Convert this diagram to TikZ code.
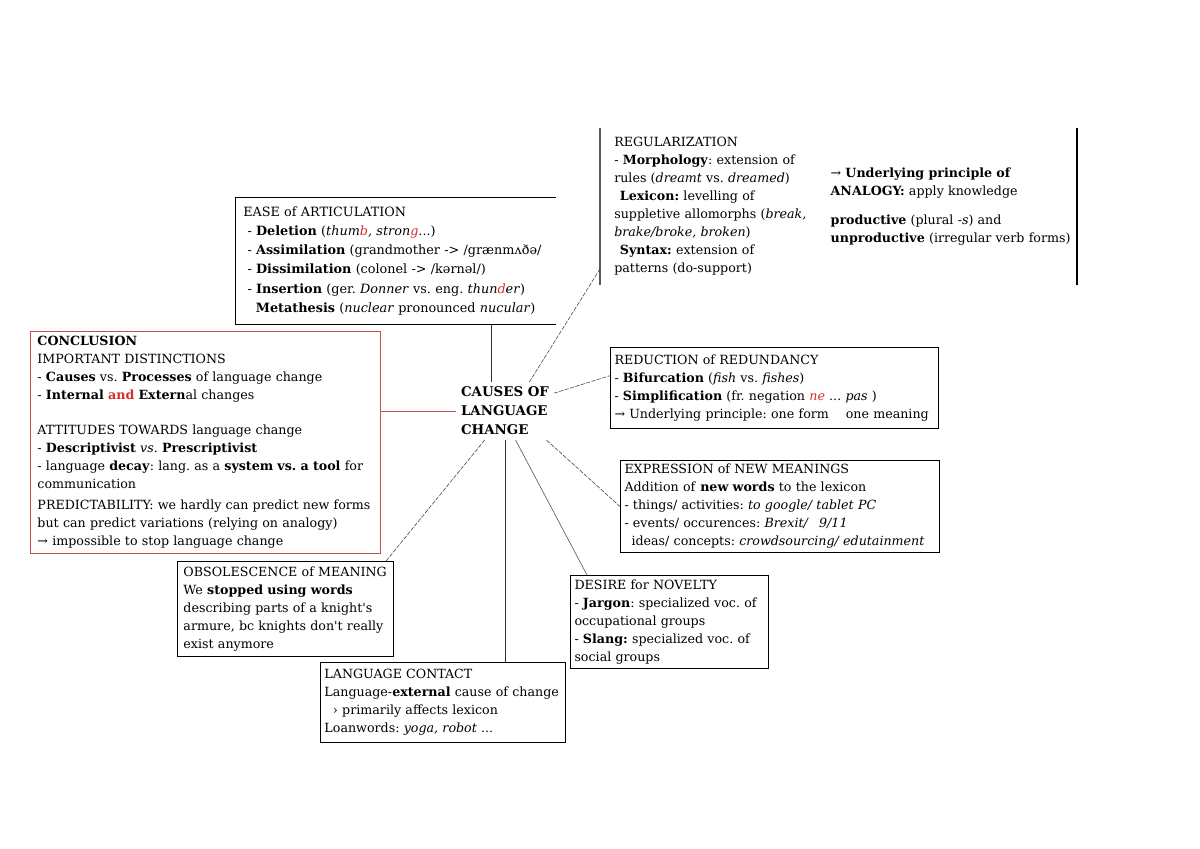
\documentclass[tikz,border=0pt]{standalone}
\usepackage{fontspec}
\setmainfont{DejaVu Serif}
\usetikzlibrary{calc}
\frenchspacing
\hyphenpenalty=10000
\definecolor{hl}{RGB}{215,45,45}
\definecolor{redframe}{RGB}{190,80,80}
\tikzset{
  box/.style={draw, line width=0.7pt, anchor=north west, align=left, inner xsep=0.15cm, inner ysep=2pt},
  plain/.style={anchor=north west, align=left, inner xsep=0.15cm, inner ysep=2pt},
  dashlink/.style={black!75, line width=0.4pt, dash pattern=on 3pt off 1pt},
  link/.style={black!80, line width=0.5pt},
  edge/.style={black!65, line width=1.1pt},
}
\begin{document}
\begin{tikzpicture}[x=0.025cm, y=-0.025cm, font=\fontsize{9}{12.8}\selectfont]
\useasboundingbox (0,0) rectangle (1200,848);
\fill[white] (0,0) rectangle (1200,848);
\node[font=\fontsize{9.5}{13.5}\selectfont\bfseries, align=left] (causes) at (505,411) {CAUSES OF\\LANGUAGE\\CHANGE};
\node[plain, font=\fontsize{9.1}{13.6}\selectfont, inner xsep=0.2cm, text width=7.6cm, minimum height=3.175cm] (ease) at (235,197) {EASE of ARTICULATION\\
\hspace*{3pt}- \textbf{Deletion} (\textit{thum\textcolor{hl}{b}, stron\textcolor{hl}{g}}...)\\
\hspace*{3pt}- \textbf{Assimilation} (grandmother -> /grænmʌðə/\\
\hspace*{3pt}- \textbf{Dissimilation} (colonel -> /kərnəl/)\\
\hspace*{3pt}- \textbf{Insertion} (ger. \textit{Donner} vs. eng. \textit{thun\textcolor{hl}{d}er})\\
\hspace*{9pt}\textbf{Metathesis} (\textit{nuclear} pronounced \textit{nucular})};
\draw[line width=0.7pt] (ease.north east) -- (ease.north west) -- (ease.south west) -- (ease.south east);
\node[plain, inner xsep=0.35cm, text width=5.2cm, minimum height=3.9cm] (regular) at (600,128) {REGULARIZATION\\
- \textbf{Morphology}: extension of\\
rules (\textit{dreamt} vs. \textit{dreamed})\\
\hspace*{4pt}\textbf{Lexicon:} levelling of\\
suppletive allomorphs (\textit{break,}\\
\textit{brake/broke, broken})\\
\hspace*{4pt}\textbf{Syntax:} extension of\\
patterns (do-support)};
\draw[edge] (regular.north west) -- (regular.south west);
\node[plain, anchor=north east, inner xsep=0.05cm, text width=6.1cm, minimum height=3.9cm] (analogy) at (1077,128) {→ \textbf{Underlying principle of}\\
\textbf{ANALOGY:} apply knowledge\\[8pt]
\textbf{productive} (plural \textit{-s}) and\\
\textbf{unproductive} (irregular verb forms)};
\draw[line width=0.8pt] (analogy.north east) -- (analogy.south east);
\node[box, draw=redframe, inner xsep=0.175cm, text width=8.4cm, minimum height=5.55cm] (conclusion) at (30,331) {\textbf{CONCLUSION}\\
IMPORTANT DISTINCTIONS\\
- \textbf{Causes} vs. \textbf{Processes} of language change\\
- \textbf{Internal} \textcolor{hl}{\textbf{and}} \textbf{Extern}al changes\\[12pt]
ATTITUDES TOWARDS language change\\
- \textbf{Descriptivist} \textit{vs.} \textbf{Prescriptivist}\\
- language \textbf{decay}: lang. as a \textbf{system vs. a tool} for\\
communication\\[2pt]
PREDICTABILITY: we hardly can predict new forms\\
but can predict variations (relying on analogy)\\
→ impossible to stop language change};
\node[box, inner xsep=0.1cm, text width=8cm, minimum height=2.025cm] (reduction) at (610,347) {REDUCTION of REDUNDANCY\\
- \textbf{Bifurcation} (\textit{fish} vs. \textit{fishes})\\
- \textbf{Simplification} (fr. negation \textcolor{hl}{\textit{ne}} ... \textit{pas} )\\
→ Underlying principle: one form \hspace{6pt} one meaning};
\node[box, inner xsep=0.1cm, text width=7.775cm, minimum height=2.3cm] (expression) at (620,460) {EXPRESSION of NEW MEANINGS\\
Addition of \textbf{new words} to the lexicon\\
- things/ activities: \textit{to google/ tablet PC}\\
- events/ occurences: \textit{Brexit/\hspace{5pt} 9/11}\\
\hspace*{5pt}ideas/ concepts: \textit{crowdsourcing/ edutainment}};
\node[box, text width=5.1cm, minimum height=2.375cm] (obsolete) at (177,561) {OBSOLESCENCE of MEANING\\
We \textbf{stopped using words}\\
describing parts of a knight\textquotesingle s\\
armure, bc knights don\textquotesingle t really\\
exist anymore};
\node[box, inner xsep=0.1cm, text width=4.75cm, minimum height=2.325cm] (novelty) at (570,575) {DESIRE for NOVELTY\\
- \textbf{Jargon}: specialized voc. of\\
occupational groups\\
- \textbf{Slang:} specialized voc. of\\
social groups};
\node[box, inner xsep=0.1cm, text width=5.925cm, minimum height=2cm] (contact) at (320,662) {LANGUAGE CONTACT\\
Language-\textbf{external} cause of change\\
\hspace*{6pt}› primarily affects lexicon\\
Loanwords: \textit{yoga, robot} ...};
\coordinate (easefoot) at ($(ease.south west)!.8!(ease.south east)$);
\coordinate (regfoot) at ($(regular.south west)!.1!(regular.north west)$);
\coordinate (redtip) at ($(reduction.north west)!.35!(reduction.south west)$);
\draw[link] (easefoot) -- (easefoot |- causes.north);
\draw[dashlink] (causes.50) -- (regfoot);
\draw[dashlink] (causes.20) -- (redtip);
\draw[dashlink] (causes.-35) -- (expression.west);
\draw[link, black!60] (causes.-70) -- ([xshift=0.425cm]novelty.north west);
\draw[link] (causes.south) -- (causes.south |- contact.north);
\draw[dashlink] (causes.-125) -- ([xshift=-0.2cm]obsolete.north east);
\draw[redframe, line width=0.7pt] (causes.west) -- (causes.west -| conclusion.east);
\end{tikzpicture}
\end{document}
